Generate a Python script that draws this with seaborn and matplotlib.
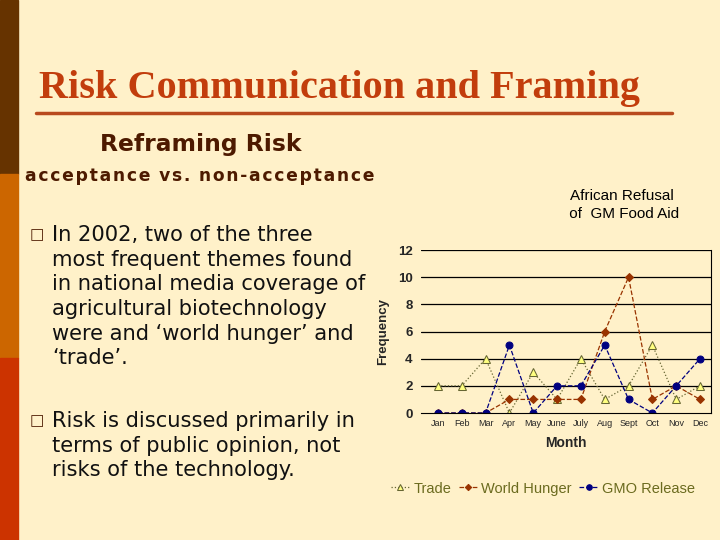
import numpy as np
import pandas as pd
import seaborn as sns
import matplotlib.pyplot as plt
from matplotlib.patches import Rectangle
from matplotlib.lines import Line2D

months = ["Jan", "Feb", "Mar", "Apr", "May", "June", "July", "Aug", "Sept", "Oct", "Nov", "Dec"]
trade = [2, 2, 4, 0, 3, 1, 4, 1, 2, 5, 1, 2]
world_hunger = [0, 0, 0, 1, 1, 1, 1, 6, 10, 1, 2, 1]
gmo_release = [0, 0, 0, 5, 0, 2, 2, 5, 1, 0, 2, 4]
y_ticks = [0, 2, 4, 6, 8, 10, 12]

bullets = [
    "In 2002, two of the three\nmost frequent themes found\nin national media coverage of\nagricultural biotechnology\nwere and \u2018world hunger\u2019 and\n\u2018trade\u2019.",
    "Risk is discussed primarily in\nterms of public opinion, not\nrisks of the technology.",
]

bg = "#FFF1C9"
sns.set_style("white")
plt.rcParams["font.family"] = ["DejaVu Sans"]

fig = plt.figure(figsize=(7.2, 5.4), dpi=100)
fig.patch.set_facecolor(bg)

# left decorative bar
for y0, h, c in [(0.678, 0.322, "#663300"), (0.337, 0.341, "#CC6600"), (0.0, 0.337, "#CC3300")]:
    fig.patches.append(Rectangle((0, y0), 18 / 720, h, transform=fig.transFigure, color=c, zorder=0))

# slide heading
fig.text(0.472, 0.836, "Risk Communication and Framing", ha="center", va="center",
         family="Liberation Serif", weight="bold", fontsize=29, color="#C23D0C")
fig.add_artist(Line2D([36 / 720, 672 / 720], [1 - 113 / 540] * 2, transform=fig.transFigure,
                      color="#B84A1E", lw=2.5))
fig.text(0.279, 0.732, "Reframing Risk", ha="center", va="center",
         weight="bold", fontsize=16.8, color="#4D1A00")
fig.text(0.035, 0.674, "a c c e p t a n c e   v s .   n o n - a c c e p t a n c e".replace("   ", "\u2002").replace(" ", "\u200a"),
         ha="left", va="center", weight="bold", fontsize=12.3, color="#4D1A00")

# bullets
for yb, txt in [(235, bullets[0]), (421, bullets[1])]:
    fig.text(37 / 720, 1 - yb / 540, "\u25a1", ha="center", va="center", fontsize=11, color="#4D1A00")
    fig.text(52 / 720, 1 - (yb - 10) / 540, txt, ha="left", va="top", fontsize=15.1,
             linespacing=1.29, color="#111111")

fig.text(622 / 720, 1 - 205 / 540, "African Refusal\n of  GM Food Aid", ha="center", va="center",
         family="Liberation Sans", fontsize=11, linespacing=1.3, color="black")

# chart
ax = fig.add_axes([421 / 720, 1 - 413 / 540, 290 / 720, 163 / 540])
ax.set_facecolor("none")
x = np.arange(len(months))

series = [
    ("Trade", trade, dict(color="#666633", marker="^", markerfacecolor="#FFFF80",
                          markeredgecolor="#666633", markersize=6, linestyle=":", linewidth=0.9)),
    ("World Hunger", world_hunger, dict(color="#993300", marker="D", markerfacecolor="#993300",
                                        markeredgecolor="#993300", markersize=4, linestyle="--", linewidth=0.9)),
    ("GMO Release", gmo_release, dict(color="#000080", marker="o", markerfacecolor="#000080",
                                      markeredgecolor="#000080", markersize=5, linestyle="--", linewidth=0.9)),
]
for name, vals, kw in series:
    df = pd.DataFrame({"month": x, "value": vals})
    sns.lineplot(data=df, x="month", y="value", ax=ax, label=name, **kw)

ax.set_xlim(-0.71, 11.46)
ax.set_ylim(0, 12)
ax.set_yticks(y_ticks)
ax.set_yticklabels([str(v) for v in y_ticks], family="Liberation Sans", weight="bold", fontsize=9.5)
ax.set_xticks(x)
ax.set_xticklabels(months, family="Liberation Sans", fontsize=6.5)
ax.tick_params(axis="both", length=0, pad=6)
ax.tick_params(axis="x", pad=4)
for yv in y_ticks[1:]:
    ax.axhline(yv, color="black", lw=0.9, zorder=0)
for s in ["left", "top"]:
    ax.spines[s].set_visible(False)
ax.spines["right"].set_color("black")
ax.spines["bottom"].set_color("black")
ax.set_xlabel("Month", family="Liberation Sans", weight="bold", fontsize=10, labelpad=6)
ax.set_ylabel("Frequency", family="Liberation Sans", weight="bold", fontsize=9.5, labelpad=6)

leg = ax.legend(loc="upper center", bbox_to_anchor=(0.42, -0.34), ncol=3, frameon=False,
                handlelength=1.3, handletextpad=0.25, columnspacing=0.5, markerscale=0.8,
                prop={"family": "Liberation Sans", "size": 10.5})
for t in leg.get_texts():
    t.set_color("#6B6B1F")

fig.savefig("out.png", dpi=100, facecolor=bg)
